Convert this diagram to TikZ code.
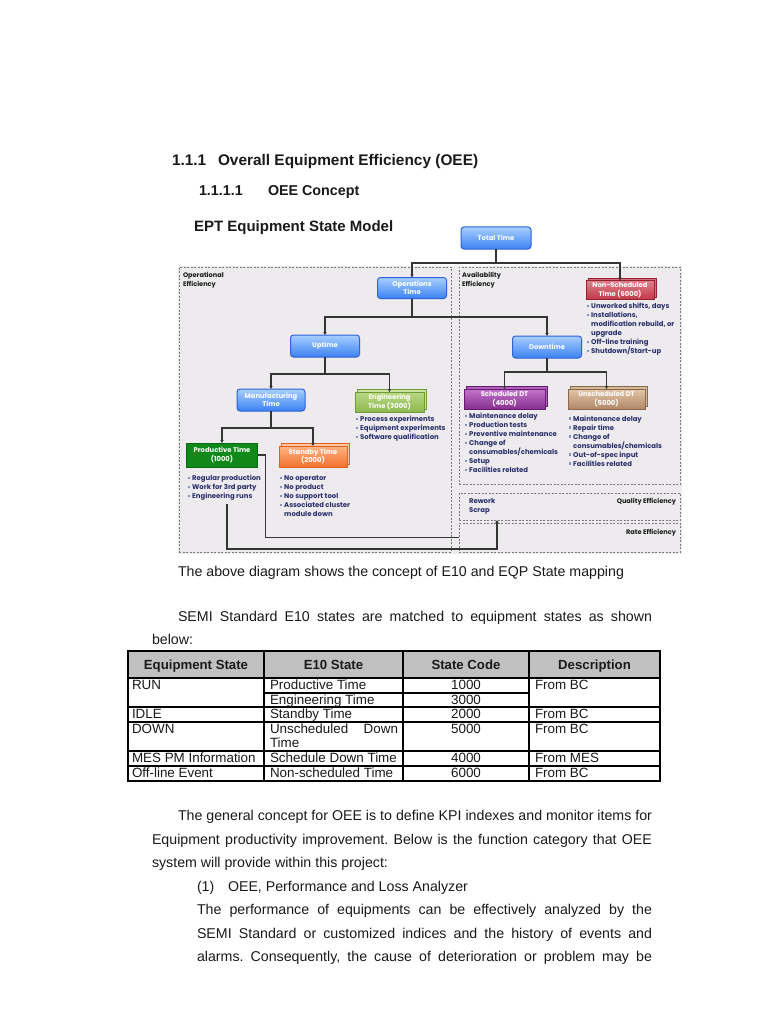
\documentclass[tikz,border=0pt]{standalone}
\usepackage{fontspec}
\setmainfont{Liberation Sans}
\newfontfamily\gothic{Poppins}
\usetikzlibrary{arrows.meta,shadows}
\definecolor{ink}{HTML}{1A1A1A}
\definecolor{listink}{HTML}{2B2F6B}
\definecolor{bulletc}{HTML}{8593B8}
\definecolor{backdrop}{HTML}{EDEBEE}
\definecolor{dashc}{HTML}{7A7A7A}
\definecolor{wireink}{HTML}{353535}
\definecolor{headfill}{HTML}{C0C0C0}
\definecolor{bluetop}{HTML}{A8CEFF}
\definecolor{bluebot}{HTML}{3C82F2}
\definecolor{blueedge}{HTML}{2D63D6}
\definecolor{redtop}{HTML}{E0808C}
\definecolor{redbot}{HTML}{C23848}
\definecolor{redside}{HTML}{D9707C}
\definecolor{rededge}{HTML}{962030}
\definecolor{greentop}{HTML}{BAD985}
\definecolor{greenbot}{HTML}{8CB84C}
\definecolor{greenside}{HTML}{CDE3A4}
\definecolor{greenedge}{HTML}{6E9A38}
\definecolor{prodfill}{HTML}{11891A}
\definecolor{prodedge}{HTML}{0A6A10}
\definecolor{orangetop}{HTML}{FFB484}
\definecolor{orangebot}{HTML}{F2712E}
\definecolor{orangeside}{HTML}{FFC6A2}
\definecolor{orangeedge}{HTML}{E2611E}
\definecolor{purpletop}{HTML}{C474CC}
\definecolor{purplebot}{HTML}{86308F}
\definecolor{purpleside}{HTML}{B060B8}
\definecolor{purpleedge}{HTML}{641A70}
\definecolor{tantop}{HTML}{E3C6A8}
\definecolor{tanbot}{HTML}{B08868}
\definecolor{tanside}{HTML}{D6B898}
\definecolor{tanedge}{HTML}{8A6A4E}
\newcommand{\bul}{\textcolor{bulletc}{\rule[1.2pt]{2.4pt}{2.4pt}}\hspace{1.8pt}}
\newcommand{\bulgap}{\hspace{4.2pt}}
\tikzset{
  body/.style={anchor=base west,font=\fontsize{14.2}{17}\selectfont\frenchspacing,text=ink},
  heading/.style={anchor=base west,font=\fontsize{15.4}{18}\selectfont\bfseries,text=ink},
  subheading/.style={anchor=base west,font=\fontsize{14.3}{17}\selectfont\bfseries,text=ink},
  cell/.style={anchor=base west,font=\fontsize{13.4}{15}\selectfont,text=ink},
  numcell/.style={anchor=base,font=\fontsize{13.4}{15}\selectfont,text=ink},
  headcell/.style={anchor=base,font=\fontsize{13.2}{15}\selectfont\bfseries,text=ink},
  tblthin/.style={draw=black,line width=1.1pt},
  tblthick/.style={draw=black,line width=1.8pt},
  region/.style={draw=dashc,dash pattern=on 2pt off 1.5pt,line width=0.8pt},
  areatag/.style={anchor=north west,align=left,font=\gothic\bfseries\fontsize{6.6}{9}\selectfont,text=ink},
  listtext/.style={anchor=north west,align=left,font=\gothic\bfseries\fontsize{6.9}{9}\selectfont,text=listink},
  boxtext/.style={align=center,font=\gothic\bfseries\fontsize{6.8}{8.6}\selectfont,text=white},
  bluebox/.style={boxtext,rounded corners=3pt,draw=blueedge,line width=1pt,top color=bluetop,bottom color=bluebot},
  solidbox/.style={boxtext,draw=#1edge,line width=0.9pt,fill=#1fill},
  threed/.style={boxtext,draw=#1edge,line width=0.9pt,top color=#1top,bottom color=#1bot,
    copy shadow={shadow xshift=2.4pt,shadow yshift=2.4pt,fill=#1side,draw=#1edge,line width=0.6pt}},
  wire/.style={draw=wireink,line width=1.3pt},
  arrow/.style={wire,-{Triangle[length=3pt,width=3.2pt]}}
}

\begin{document}
\begin{tikzpicture}[x=1pt,y=-1pt,every node/.style={inner sep=0pt,outer sep=0pt}]
\path[use as bounding box,fill=white] (0,0) rectangle (768,1024);

% headings
\node[heading] (h-num) at (172,166) {1.1.1};
\node[heading] (h-title) at (218,166) {Overall Equipment Efficiency (OEE)};
\node[subheading] (s-num) at (199,196) {1.1.1.1};
\node[subheading] (s-title) at (268,196) {OEE Concept};
\node[anchor=base west,font=\fontsize{15}{18}\selectfont\bfseries,text=ink] (model-title) at (194,232) {EPT Equipment State Model};

% diagram areas
\fill[backdrop] (178,266) rectangle (682,554);
\node[region,minimum width=272pt,minimum height=285pt] (oparea) at (315,409.5) {};
\node[region,minimum width=221pt,minimum height=217pt] (avarea) at (569.5,375.5) {};
\node[region,minimum width=221pt,minimum height=27pt] (quality) at (569.5,506.5) {};
\node[region,minimum width=221pt,minimum height=29pt] (rate) at (569.5,537.5) {};
\node[areatag] (op-tag) at (183,272.5) {Operational\\Efficiency};
\node[areatag] (av-tag) at (462,272.5) {Availability\\Efficiency};
\node[listtext] (loss-tag) at (469,498) {Rework\\Scrap};
\node[areatag,anchor=north east] (quality-tag) at (676,498) {Quality Efficiency};
\node[areatag,anchor=north east] (rate-tag) at (676,529) {Rate Efficiency};

% state boxes
\node[bluebox,minimum width=70pt,minimum height=22pt] (total) at (496,238) {Total Time};
\node[bluebox,minimum width=69pt,minimum height=21pt] (ops) at (412,288) {Operations\\Time};
\node[threed=red,minimum width=68pt,minimum height=19pt] (nonsched) at (620,290) {Non-Scheduled\\Time (6000)};
\node[bluebox,minimum width=69pt,minimum height=22pt] (uptime) at (325,346) {Uptime};
\node[bluebox,minimum width=69pt,minimum height=22pt] (downtime) at (547,347) {Downtime};
\node[bluebox,minimum width=68pt,minimum height=22pt] (manuf) at (271,400) {Manufacturing\\Time};
\node[threed=green,minimum width=69pt,minimum height=20pt] (eng) at (389.5,402) {Engineering\\Time (3000)};
\node[threed=purple,minimum width=81pt,minimum height=20pt] (sched) at (504.5,399) {Scheduled DT\\(4000)};
\node[threed=tan,minimum width=77pt,minimum height=20pt] (unsched) at (606.5,399) {Unscheduled DT\\(5000)};
\node[solidbox=prod,minimum width=71pt,minimum height=24pt] (prod) at (222,455) {Productive Time\\(1000)};
\node[threed=orange,minimum width=68pt,minimum height=21pt] (standby) at (313,456.5) {Standby Time\\(2000)};

% item lists
\node[listtext] (nonsched-list) at (587,303) {\bul Unworked shifts, days\\\bul Installations,\\\bulgap modification rebuild, or\\\bulgap upgrade\\\bul Off-line training\\\bul Shutdown/Start-up};
\node[listtext] (eng-list) at (356,416) {\bul Process experiments\\\bul Equipment experiments\\\bul Software qualification};
\node[listtext] (sched-list) at (465,413) {\bul Maintenance delay\\\bul Production tests\\\bul Preventive maintenance\\\bul Change of\\\bulgap consumables/chemicals\\\bul Setup\\\bul Facilities related};
\node[listtext] (unsched-list) at (569,415.5) {\bul Maintenance delay\\\bul Repair time\\\bul Change of\\\bulgap consumables/chemicals\\\bul Out-of-spec input\\\bul Facilities related};
\node[listtext] (prod-list) at (188,475) {\bul Regular production\\\bul Work for 3rd party\\\bul Engineering runs};
\node[listtext] (standby-list) at (280,475.5) {\bul No operator\\\bul No product\\\bul No support tool\\\bul Associated cluster\\\bulgap module down};

% tree connectors
\coordinate (total-split) at (496,263);
\coordinate (ops-split) at (412,317);
\coordinate (up-split) at (325,374);
\coordinate (down-split) at (547,372);
\coordinate (manuf-split) at (271,428);
\coordinate (runs-start) at (227,504);
\draw[wire] (total.south) -- (total-split);
\draw[arrow] (total-split) -| (ops.north);
\draw[arrow] (total-split) -| (nonsched.north);
\draw[wire] (ops.south) -- (ops-split);
\draw[arrow] (ops-split) -| (uptime.north);
\draw[arrow] (ops-split) -| (downtime.north);
\draw[wire] (uptime.south) -- (up-split);
\draw[arrow] (up-split) -| (manuf.north);
\draw[arrow] (up-split) -| (eng.north);
\draw[wire] (downtime.south) -- (down-split);
\draw[arrow] (down-split) -| (sched.north);
\draw[arrow] (down-split) -| (unsched.north);
\draw[wire] (manuf.south) -- (manuf-split);
\draw[arrow] (manuf-split) -| (prod.north);
\draw[arrow] (manuf-split) -| (standby.north);
\draw[wire] (prod.east) -- ++(8,0) |- (rate.west);
\draw[arrow] (runs-start) -- ++(0,45) -| ([xshift=38pt]quality.south west);

% body text
\node[body] (caption) at (178,576) {The above diagram shows the concept of E10 and EQP State mapping};
\node[body] (semi-1) at (178,621.5) {\makebox[474pt][s]{SEMI Standard E10 states are matched to equipment states as shown}};
\node[body] (semi-2) at (152,644) {below:};

% state table
\fill[headfill] (128,651) rectangle (660,678);
\draw[tblthin] (264,651) -- (264,781);
\draw[tblthin] (403,651) -- (403,781);
\draw[tblthin] (529,651) -- (529,781);
\draw[tblthin] (264,693) -- (529,693);
\draw[tblthin] (128,707) -- (660,707);
\draw[tblthin] (128,722) -- (660,722);
\draw[tblthin] (128,751) -- (660,751);
\draw[tblthin] (128,766) -- (660,766);
\draw[tblthick] (128,678) -- (660,678);
\draw[tblthick] (128,651) rectangle (660,781);
\node[headcell] (th-1) at (196,669) {Equipment State};
\node[headcell] (th-2) at (333.5,669) {E10 State};
\node[headcell] (th-3) at (466,669) {State Code};
\node[headcell] (th-4) at (594.5,669) {Description};
\node[cell] (run) at (132,689.5) {RUN};
\node[cell] (run-e10a) at (270,689.5) {Productive Time};
\node[numcell] (run-codea) at (466,689.5) {1000};
\node[cell] (run-desc) at (535,689.5) {From BC};
\node[cell] (run-e10b) at (270,704) {Engineering Time};
\node[numcell] (run-codeb) at (466,704) {3000};
\node[cell] (idle) at (132,718.5) {IDLE};
\node[cell] (idle-e10) at (270,718.5) {Standby Time};
\node[numcell] (idle-code) at (466,718.5) {2000};
\node[cell] (idle-desc) at (535,718.5) {From BC};
\node[cell] (down) at (132,733) {DOWN};
\node[cell] (down-e10a) at (270,733) {\makebox[128pt][s]{Unscheduled Down}};
\node[cell] (down-e10b) at (270,747.5) {Time};
\node[numcell] (down-code) at (466,733) {5000};
\node[cell] (down-desc) at (535,733) {From BC};
\node[cell] (mes) at (132,762.5) {MES PM Information};
\node[cell] (mes-e10) at (270,762.5) {Schedule Down Time};
\node[numcell] (mes-code) at (466,762.5) {4000};
\node[cell] (mes-desc) at (535,762.5) {From MES};
\node[cell] (offline) at (132,777.5) {Off-line Event};
\node[cell] (offline-e10) at (270,777.5) {Non-scheduled Time};
\node[numcell] (offline-code) at (466,777.5) {6000};
\node[cell] (offline-desc) at (535,777.5) {From BC};

% concept text
\node[body] (kpi-1) at (178,820.5) {\makebox[474pt][s]{The general concept for OEE is to define KPI indexes and monitor items for}};
\node[body] (kpi-2) at (152,844) {\makebox[500pt][s]{Equipment productivity improvement. Below is the function category that OEE}};
\node[body] (kpi-3) at (152,867.5) {system will provide within this project:};
\node[body] (item-num) at (197,891) {(1)};
\node[body] (item-title) at (228,891) {OEE, Performance and Loss Analyzer};
\node[body] (item-1) at (197,914.5) {\makebox[455pt][s]{The performance of equipments can be effectively analyzed by the}};
\node[body] (item-2) at (197,938) {\makebox[455pt][s]{SEMI Standard or customized indices and the history of events and}};
\node[body] (item-3) at (197,961.5) {\makebox[455pt][s]{alarms. Consequently, the cause of deterioration or problem may be}};
\end{tikzpicture}
\end{document}
